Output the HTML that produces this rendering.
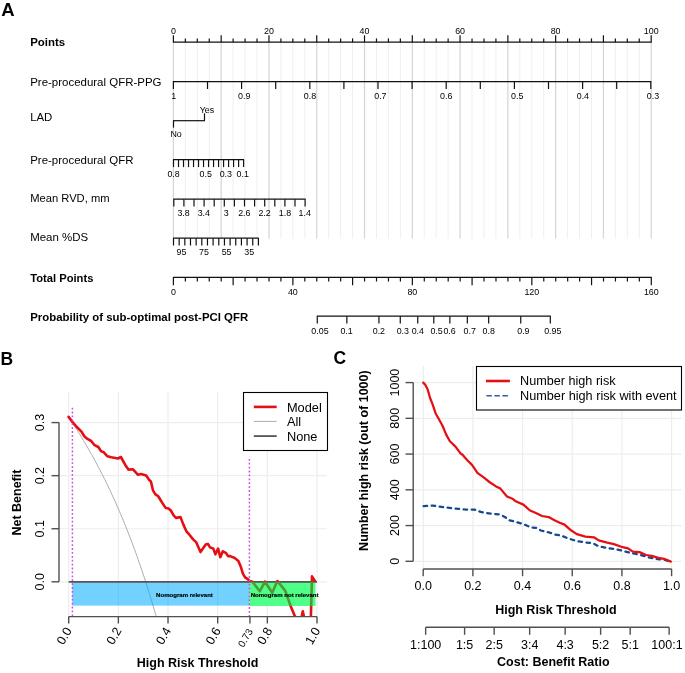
<!DOCTYPE html>
<html><head><meta charset="utf-8"><title>Nomogram and decision curves</title>
<style>
html,body{margin:0;padding:0;background:#fff;}
body{width:685px;height:673px;overflow:hidden;}
svg{display:block;font-family:"Liberation Sans", Arial, Helvetica, sans-serif;}
</style></head>
<body>
<svg width="685" height="673" viewBox="0 0 685 673">
<rect width="685" height="673" fill="#fff"/>
<text x="1.20" y="16.10" font-size="18.5" text-anchor="start" font-weight="bold" fill="#000" >A</text>
<line x1="173.40" y1="42.20" x2="173.40" y2="238.60" stroke="#d4d4d4" stroke-width="1.2" />
<line x1="185.34" y1="42.20" x2="185.34" y2="238.60" stroke="#efefef" stroke-width="1.0" />
<line x1="197.29" y1="42.20" x2="197.29" y2="238.60" stroke="#efefef" stroke-width="1.0" />
<line x1="209.24" y1="42.20" x2="209.24" y2="238.60" stroke="#efefef" stroke-width="1.0" />
<line x1="221.18" y1="42.20" x2="221.18" y2="238.60" stroke="#d4d4d4" stroke-width="1.2" />
<line x1="233.12" y1="42.20" x2="233.12" y2="238.60" stroke="#efefef" stroke-width="1.0" />
<line x1="245.07" y1="42.20" x2="245.07" y2="238.60" stroke="#efefef" stroke-width="1.0" />
<line x1="257.01" y1="42.20" x2="257.01" y2="238.60" stroke="#efefef" stroke-width="1.0" />
<line x1="268.96" y1="42.20" x2="268.96" y2="238.60" stroke="#d4d4d4" stroke-width="1.2" />
<line x1="280.91" y1="42.20" x2="280.91" y2="238.60" stroke="#efefef" stroke-width="1.0" />
<line x1="292.85" y1="42.20" x2="292.85" y2="238.60" stroke="#efefef" stroke-width="1.0" />
<line x1="304.80" y1="42.20" x2="304.80" y2="238.60" stroke="#efefef" stroke-width="1.0" />
<line x1="316.74" y1="42.20" x2="316.74" y2="238.60" stroke="#d4d4d4" stroke-width="1.2" />
<line x1="328.69" y1="42.20" x2="328.69" y2="238.60" stroke="#efefef" stroke-width="1.0" />
<line x1="340.63" y1="42.20" x2="340.63" y2="238.60" stroke="#efefef" stroke-width="1.0" />
<line x1="352.58" y1="42.20" x2="352.58" y2="238.60" stroke="#efefef" stroke-width="1.0" />
<line x1="364.52" y1="42.20" x2="364.52" y2="238.60" stroke="#d4d4d4" stroke-width="1.2" />
<line x1="376.47" y1="42.20" x2="376.47" y2="238.60" stroke="#efefef" stroke-width="1.0" />
<line x1="388.41" y1="42.20" x2="388.41" y2="238.60" stroke="#efefef" stroke-width="1.0" />
<line x1="400.36" y1="42.20" x2="400.36" y2="238.60" stroke="#efefef" stroke-width="1.0" />
<line x1="412.30" y1="42.20" x2="412.30" y2="238.60" stroke="#d4d4d4" stroke-width="1.2" />
<line x1="424.25" y1="42.20" x2="424.25" y2="238.60" stroke="#efefef" stroke-width="1.0" />
<line x1="436.19" y1="42.20" x2="436.19" y2="238.60" stroke="#efefef" stroke-width="1.0" />
<line x1="448.13" y1="42.20" x2="448.13" y2="238.60" stroke="#efefef" stroke-width="1.0" />
<line x1="460.08" y1="42.20" x2="460.08" y2="238.60" stroke="#d4d4d4" stroke-width="1.2" />
<line x1="472.03" y1="42.20" x2="472.03" y2="238.60" stroke="#efefef" stroke-width="1.0" />
<line x1="483.97" y1="42.20" x2="483.97" y2="238.60" stroke="#efefef" stroke-width="1.0" />
<line x1="495.92" y1="42.20" x2="495.92" y2="238.60" stroke="#efefef" stroke-width="1.0" />
<line x1="507.86" y1="42.20" x2="507.86" y2="238.60" stroke="#d4d4d4" stroke-width="1.2" />
<line x1="519.81" y1="42.20" x2="519.81" y2="238.60" stroke="#efefef" stroke-width="1.0" />
<line x1="531.75" y1="42.20" x2="531.75" y2="238.60" stroke="#efefef" stroke-width="1.0" />
<line x1="543.70" y1="42.20" x2="543.70" y2="238.60" stroke="#efefef" stroke-width="1.0" />
<line x1="555.64" y1="42.20" x2="555.64" y2="238.60" stroke="#d4d4d4" stroke-width="1.2" />
<line x1="567.59" y1="42.20" x2="567.59" y2="238.60" stroke="#efefef" stroke-width="1.0" />
<line x1="579.53" y1="42.20" x2="579.53" y2="238.60" stroke="#efefef" stroke-width="1.0" />
<line x1="591.48" y1="42.20" x2="591.48" y2="238.60" stroke="#efefef" stroke-width="1.0" />
<line x1="603.42" y1="42.20" x2="603.42" y2="238.60" stroke="#d4d4d4" stroke-width="1.2" />
<line x1="615.37" y1="42.20" x2="615.37" y2="238.60" stroke="#efefef" stroke-width="1.0" />
<line x1="627.31" y1="42.20" x2="627.31" y2="238.60" stroke="#efefef" stroke-width="1.0" />
<line x1="639.25" y1="42.20" x2="639.25" y2="238.60" stroke="#efefef" stroke-width="1.0" />
<line x1="651.20" y1="42.20" x2="651.20" y2="238.60" stroke="#d4d4d4" stroke-width="1.2" />
<line x1="172.90" y1="42.20" x2="651.70" y2="42.20" stroke="#111111" stroke-width="1.2" />
<line x1="173.40" y1="42.20" x2="173.40" y2="35.30" stroke="#111111" stroke-width="1.2" />
<line x1="185.34" y1="42.20" x2="185.34" y2="38.40" stroke="#111111" stroke-width="1.2" />
<line x1="197.29" y1="42.20" x2="197.29" y2="38.40" stroke="#111111" stroke-width="1.2" />
<line x1="209.24" y1="42.20" x2="209.24" y2="38.40" stroke="#111111" stroke-width="1.2" />
<line x1="221.18" y1="42.20" x2="221.18" y2="35.30" stroke="#111111" stroke-width="1.2" />
<line x1="233.12" y1="42.20" x2="233.12" y2="38.40" stroke="#111111" stroke-width="1.2" />
<line x1="245.07" y1="42.20" x2="245.07" y2="38.40" stroke="#111111" stroke-width="1.2" />
<line x1="257.01" y1="42.20" x2="257.01" y2="38.40" stroke="#111111" stroke-width="1.2" />
<line x1="268.96" y1="42.20" x2="268.96" y2="35.30" stroke="#111111" stroke-width="1.2" />
<line x1="280.91" y1="42.20" x2="280.91" y2="38.40" stroke="#111111" stroke-width="1.2" />
<line x1="292.85" y1="42.20" x2="292.85" y2="38.40" stroke="#111111" stroke-width="1.2" />
<line x1="304.80" y1="42.20" x2="304.80" y2="38.40" stroke="#111111" stroke-width="1.2" />
<line x1="316.74" y1="42.20" x2="316.74" y2="35.30" stroke="#111111" stroke-width="1.2" />
<line x1="328.69" y1="42.20" x2="328.69" y2="38.40" stroke="#111111" stroke-width="1.2" />
<line x1="340.63" y1="42.20" x2="340.63" y2="38.40" stroke="#111111" stroke-width="1.2" />
<line x1="352.58" y1="42.20" x2="352.58" y2="38.40" stroke="#111111" stroke-width="1.2" />
<line x1="364.52" y1="42.20" x2="364.52" y2="35.30" stroke="#111111" stroke-width="1.2" />
<line x1="376.47" y1="42.20" x2="376.47" y2="38.40" stroke="#111111" stroke-width="1.2" />
<line x1="388.41" y1="42.20" x2="388.41" y2="38.40" stroke="#111111" stroke-width="1.2" />
<line x1="400.36" y1="42.20" x2="400.36" y2="38.40" stroke="#111111" stroke-width="1.2" />
<line x1="412.30" y1="42.20" x2="412.30" y2="35.30" stroke="#111111" stroke-width="1.2" />
<line x1="424.25" y1="42.20" x2="424.25" y2="38.40" stroke="#111111" stroke-width="1.2" />
<line x1="436.19" y1="42.20" x2="436.19" y2="38.40" stroke="#111111" stroke-width="1.2" />
<line x1="448.13" y1="42.20" x2="448.13" y2="38.40" stroke="#111111" stroke-width="1.2" />
<line x1="460.08" y1="42.20" x2="460.08" y2="35.30" stroke="#111111" stroke-width="1.2" />
<line x1="472.03" y1="42.20" x2="472.03" y2="38.40" stroke="#111111" stroke-width="1.2" />
<line x1="483.97" y1="42.20" x2="483.97" y2="38.40" stroke="#111111" stroke-width="1.2" />
<line x1="495.92" y1="42.20" x2="495.92" y2="38.40" stroke="#111111" stroke-width="1.2" />
<line x1="507.86" y1="42.20" x2="507.86" y2="35.30" stroke="#111111" stroke-width="1.2" />
<line x1="519.81" y1="42.20" x2="519.81" y2="38.40" stroke="#111111" stroke-width="1.2" />
<line x1="531.75" y1="42.20" x2="531.75" y2="38.40" stroke="#111111" stroke-width="1.2" />
<line x1="543.70" y1="42.20" x2="543.70" y2="38.40" stroke="#111111" stroke-width="1.2" />
<line x1="555.64" y1="42.20" x2="555.64" y2="35.30" stroke="#111111" stroke-width="1.2" />
<line x1="567.59" y1="42.20" x2="567.59" y2="38.40" stroke="#111111" stroke-width="1.2" />
<line x1="579.53" y1="42.20" x2="579.53" y2="38.40" stroke="#111111" stroke-width="1.2" />
<line x1="591.48" y1="42.20" x2="591.48" y2="38.40" stroke="#111111" stroke-width="1.2" />
<line x1="603.42" y1="42.20" x2="603.42" y2="35.30" stroke="#111111" stroke-width="1.2" />
<line x1="615.37" y1="42.20" x2="615.37" y2="38.40" stroke="#111111" stroke-width="1.2" />
<line x1="627.31" y1="42.20" x2="627.31" y2="38.40" stroke="#111111" stroke-width="1.2" />
<line x1="639.25" y1="42.20" x2="639.25" y2="38.40" stroke="#111111" stroke-width="1.2" />
<line x1="651.20" y1="42.20" x2="651.20" y2="35.30" stroke="#111111" stroke-width="1.2" />
<text x="173.40" y="33.70" font-size="8.9" text-anchor="middle" font-weight="normal" fill="#000" >0</text>
<text x="268.96" y="33.70" font-size="8.9" text-anchor="middle" font-weight="normal" fill="#000" >20</text>
<text x="364.52" y="33.70" font-size="8.9" text-anchor="middle" font-weight="normal" fill="#000" >40</text>
<text x="460.08" y="33.70" font-size="8.9" text-anchor="middle" font-weight="normal" fill="#000" >60</text>
<text x="555.64" y="33.70" font-size="8.9" text-anchor="middle" font-weight="normal" fill="#000" >80</text>
<text x="651.20" y="33.70" font-size="8.9" text-anchor="middle" font-weight="normal" fill="#000" >100</text>
<text x="30.20" y="46.40" font-size="11.45" text-anchor="start" font-weight="bold" fill="#000" >Points</text>
<text x="30.20" y="86.00" font-size="11.48" text-anchor="start" font-weight="normal" fill="#000" >Pre-procedural QFR-PPG</text>
<line x1="172.90" y1="81.60" x2="651.30" y2="81.60" stroke="#111111" stroke-width="1.2" />
<line x1="173.40" y1="81.60" x2="173.40" y2="89.00" stroke="#111111" stroke-width="1.2" />
<line x1="207.50" y1="81.60" x2="207.50" y2="89.00" stroke="#111111" stroke-width="1.2" />
<line x1="241.60" y1="81.60" x2="241.60" y2="89.00" stroke="#111111" stroke-width="1.2" />
<line x1="275.70" y1="81.60" x2="275.70" y2="89.00" stroke="#111111" stroke-width="1.2" />
<line x1="309.80" y1="81.60" x2="309.80" y2="89.00" stroke="#111111" stroke-width="1.2" />
<line x1="343.90" y1="81.60" x2="343.90" y2="89.00" stroke="#111111" stroke-width="1.2" />
<line x1="378.00" y1="81.60" x2="378.00" y2="89.00" stroke="#111111" stroke-width="1.2" />
<line x1="412.10" y1="81.60" x2="412.10" y2="89.00" stroke="#111111" stroke-width="1.2" />
<line x1="446.20" y1="81.60" x2="446.20" y2="89.00" stroke="#111111" stroke-width="1.2" />
<line x1="480.30" y1="81.60" x2="480.30" y2="89.00" stroke="#111111" stroke-width="1.2" />
<line x1="514.40" y1="81.60" x2="514.40" y2="89.00" stroke="#111111" stroke-width="1.2" />
<line x1="548.50" y1="81.60" x2="548.50" y2="89.00" stroke="#111111" stroke-width="1.2" />
<line x1="582.60" y1="81.60" x2="582.60" y2="89.00" stroke="#111111" stroke-width="1.2" />
<line x1="616.70" y1="81.60" x2="616.70" y2="89.00" stroke="#111111" stroke-width="1.2" />
<line x1="650.80" y1="81.60" x2="650.80" y2="89.00" stroke="#111111" stroke-width="1.2" />
<text x="173.60" y="99.00" font-size="8.9" text-anchor="middle" font-weight="normal" fill="#000" >1</text>
<text x="244.20" y="99.00" font-size="8.9" text-anchor="middle" font-weight="normal" fill="#000" >0.9</text>
<text x="310.00" y="99.00" font-size="8.9" text-anchor="middle" font-weight="normal" fill="#000" >0.8</text>
<text x="380.40" y="99.00" font-size="8.9" text-anchor="middle" font-weight="normal" fill="#000" >0.7</text>
<text x="446.20" y="99.00" font-size="8.9" text-anchor="middle" font-weight="normal" fill="#000" >0.6</text>
<text x="517.20" y="99.00" font-size="8.9" text-anchor="middle" font-weight="normal" fill="#000" >0.5</text>
<text x="582.90" y="99.00" font-size="8.9" text-anchor="middle" font-weight="normal" fill="#000" >0.4</text>
<text x="653.00" y="99.00" font-size="8.9" text-anchor="middle" font-weight="normal" fill="#000" >0.3</text>
<text x="30.20" y="120.80" font-size="11.4" text-anchor="start" font-weight="normal" fill="#000" >LAD</text>
<line x1="173.00" y1="120.70" x2="205.00" y2="120.70" stroke="#111111" stroke-width="1.2" />
<line x1="173.50" y1="120.70" x2="173.50" y2="127.60" stroke="#111111" stroke-width="1.2" />
<line x1="204.50" y1="120.70" x2="204.50" y2="113.30" stroke="#111111" stroke-width="1.2" />
<text x="207.00" y="112.90" font-size="8.9" text-anchor="middle" font-weight="normal" fill="#000" >Yes</text>
<text x="176.10" y="137.40" font-size="8.9" text-anchor="middle" font-weight="normal" fill="#000" >No</text>
<text x="30.20" y="163.80" font-size="11.48" text-anchor="start" font-weight="normal" fill="#000" >Pre-procedural QFR</text>
<line x1="173.00" y1="159.60" x2="244.10" y2="159.60" stroke="#111111" stroke-width="1.2" />
<line x1="173.50" y1="159.60" x2="173.50" y2="167.10" stroke="#111111" stroke-width="1.2" />
<line x1="178.51" y1="159.60" x2="178.51" y2="167.10" stroke="#111111" stroke-width="1.2" />
<line x1="183.51" y1="159.60" x2="183.51" y2="167.10" stroke="#111111" stroke-width="1.2" />
<line x1="188.52" y1="159.60" x2="188.52" y2="167.10" stroke="#111111" stroke-width="1.2" />
<line x1="193.53" y1="159.60" x2="193.53" y2="167.10" stroke="#111111" stroke-width="1.2" />
<line x1="198.53" y1="159.60" x2="198.53" y2="167.10" stroke="#111111" stroke-width="1.2" />
<line x1="203.54" y1="159.60" x2="203.54" y2="167.10" stroke="#111111" stroke-width="1.2" />
<line x1="208.55" y1="159.60" x2="208.55" y2="167.10" stroke="#111111" stroke-width="1.2" />
<line x1="213.56" y1="159.60" x2="213.56" y2="167.10" stroke="#111111" stroke-width="1.2" />
<line x1="218.56" y1="159.60" x2="218.56" y2="167.10" stroke="#111111" stroke-width="1.2" />
<line x1="223.57" y1="159.60" x2="223.57" y2="167.10" stroke="#111111" stroke-width="1.2" />
<line x1="228.58" y1="159.60" x2="228.58" y2="167.10" stroke="#111111" stroke-width="1.2" />
<line x1="233.58" y1="159.60" x2="233.58" y2="167.10" stroke="#111111" stroke-width="1.2" />
<line x1="238.59" y1="159.60" x2="238.59" y2="167.10" stroke="#111111" stroke-width="1.2" />
<line x1="243.60" y1="159.60" x2="243.60" y2="167.10" stroke="#111111" stroke-width="1.2" />
<text x="173.60" y="176.70" font-size="8.9" text-anchor="middle" font-weight="normal" fill="#000" >0.8</text>
<text x="205.70" y="176.70" font-size="8.9" text-anchor="middle" font-weight="normal" fill="#000" >0.5</text>
<text x="225.80" y="176.70" font-size="8.9" text-anchor="middle" font-weight="normal" fill="#000" >0.3</text>
<text x="242.70" y="176.70" font-size="8.9" text-anchor="middle" font-weight="normal" fill="#000" >0.1</text>
<text x="30.20" y="201.90" font-size="11.2" text-anchor="start" font-weight="normal" fill="#000" >Mean RVD, mm</text>
<line x1="173.30" y1="199.20" x2="305.60" y2="199.20" stroke="#111111" stroke-width="1.2" />
<line x1="173.80" y1="199.20" x2="173.80" y2="206.40" stroke="#111111" stroke-width="1.2" />
<line x1="183.90" y1="199.20" x2="183.90" y2="206.40" stroke="#111111" stroke-width="1.2" />
<line x1="194.00" y1="199.20" x2="194.00" y2="206.40" stroke="#111111" stroke-width="1.2" />
<line x1="204.10" y1="199.20" x2="204.10" y2="206.40" stroke="#111111" stroke-width="1.2" />
<line x1="214.20" y1="199.20" x2="214.20" y2="206.40" stroke="#111111" stroke-width="1.2" />
<line x1="224.30" y1="199.20" x2="224.30" y2="206.40" stroke="#111111" stroke-width="1.2" />
<line x1="234.40" y1="199.20" x2="234.40" y2="206.40" stroke="#111111" stroke-width="1.2" />
<line x1="244.50" y1="199.20" x2="244.50" y2="206.40" stroke="#111111" stroke-width="1.2" />
<line x1="254.60" y1="199.20" x2="254.60" y2="206.40" stroke="#111111" stroke-width="1.2" />
<line x1="264.70" y1="199.20" x2="264.70" y2="206.40" stroke="#111111" stroke-width="1.2" />
<line x1="274.80" y1="199.20" x2="274.80" y2="206.40" stroke="#111111" stroke-width="1.2" />
<line x1="284.90" y1="199.20" x2="284.90" y2="206.40" stroke="#111111" stroke-width="1.2" />
<line x1="295.00" y1="199.20" x2="295.00" y2="206.40" stroke="#111111" stroke-width="1.2" />
<line x1="305.10" y1="199.20" x2="305.10" y2="206.40" stroke="#111111" stroke-width="1.2" />
<text x="183.60" y="215.60" font-size="8.9" text-anchor="middle" font-weight="normal" fill="#000" >3.8</text>
<text x="203.80" y="215.60" font-size="8.9" text-anchor="middle" font-weight="normal" fill="#000" >3.4</text>
<text x="226.30" y="215.60" font-size="8.9" text-anchor="middle" font-weight="normal" fill="#000" >3</text>
<text x="244.30" y="215.60" font-size="8.9" text-anchor="middle" font-weight="normal" fill="#000" >2.6</text>
<text x="264.60" y="215.60" font-size="8.9" text-anchor="middle" font-weight="normal" fill="#000" >2.2</text>
<text x="285.00" y="215.60" font-size="8.9" text-anchor="middle" font-weight="normal" fill="#000" >1.8</text>
<text x="304.70" y="215.60" font-size="8.9" text-anchor="middle" font-weight="normal" fill="#000" >1.4</text>
<text x="30.20" y="241.30" font-size="11.45" text-anchor="start" font-weight="normal" fill="#000" >Mean %DS</text>
<line x1="173.00" y1="238.20" x2="258.90" y2="238.20" stroke="#111111" stroke-width="1.2" />
<line x1="173.50" y1="238.20" x2="173.50" y2="245.50" stroke="#111111" stroke-width="1.2" />
<line x1="179.16" y1="238.20" x2="179.16" y2="245.50" stroke="#111111" stroke-width="1.2" />
<line x1="184.82" y1="238.20" x2="184.82" y2="245.50" stroke="#111111" stroke-width="1.2" />
<line x1="190.48" y1="238.20" x2="190.48" y2="245.50" stroke="#111111" stroke-width="1.2" />
<line x1="196.14" y1="238.20" x2="196.14" y2="245.50" stroke="#111111" stroke-width="1.2" />
<line x1="201.80" y1="238.20" x2="201.80" y2="245.50" stroke="#111111" stroke-width="1.2" />
<line x1="207.46" y1="238.20" x2="207.46" y2="245.50" stroke="#111111" stroke-width="1.2" />
<line x1="213.12" y1="238.20" x2="213.12" y2="245.50" stroke="#111111" stroke-width="1.2" />
<line x1="218.78" y1="238.20" x2="218.78" y2="245.50" stroke="#111111" stroke-width="1.2" />
<line x1="224.44" y1="238.20" x2="224.44" y2="245.50" stroke="#111111" stroke-width="1.2" />
<line x1="230.10" y1="238.20" x2="230.10" y2="245.50" stroke="#111111" stroke-width="1.2" />
<line x1="235.76" y1="238.20" x2="235.76" y2="245.50" stroke="#111111" stroke-width="1.2" />
<line x1="241.42" y1="238.20" x2="241.42" y2="245.50" stroke="#111111" stroke-width="1.2" />
<line x1="247.08" y1="238.20" x2="247.08" y2="245.50" stroke="#111111" stroke-width="1.2" />
<line x1="252.74" y1="238.20" x2="252.74" y2="245.50" stroke="#111111" stroke-width="1.2" />
<line x1="258.40" y1="238.20" x2="258.40" y2="245.50" stroke="#111111" stroke-width="1.2" />
<text x="181.40" y="255.40" font-size="8.9" text-anchor="middle" font-weight="normal" fill="#000" >95</text>
<text x="204.00" y="255.40" font-size="8.9" text-anchor="middle" font-weight="normal" fill="#000" >75</text>
<text x="226.60" y="255.40" font-size="8.9" text-anchor="middle" font-weight="normal" fill="#000" >55</text>
<text x="249.20" y="255.40" font-size="8.9" text-anchor="middle" font-weight="normal" fill="#000" >35</text>
<text x="30.20" y="281.90" font-size="11.2" text-anchor="start" font-weight="bold" fill="#000" >Total Points</text>
<line x1="172.90" y1="277.40" x2="651.80" y2="277.40" stroke="#111111" stroke-width="1.2" />
<line x1="173.40" y1="277.40" x2="173.40" y2="285.20" stroke="#111111" stroke-width="1.2" />
<line x1="185.35" y1="277.40" x2="185.35" y2="281.50" stroke="#111111" stroke-width="1.2" />
<line x1="197.30" y1="277.40" x2="197.30" y2="281.50" stroke="#111111" stroke-width="1.2" />
<line x1="209.24" y1="277.40" x2="209.24" y2="281.50" stroke="#111111" stroke-width="1.2" />
<line x1="221.19" y1="277.40" x2="221.19" y2="281.50" stroke="#111111" stroke-width="1.2" />
<line x1="233.14" y1="277.40" x2="233.14" y2="285.20" stroke="#111111" stroke-width="1.2" />
<line x1="245.08" y1="277.40" x2="245.08" y2="281.50" stroke="#111111" stroke-width="1.2" />
<line x1="257.03" y1="277.40" x2="257.03" y2="281.50" stroke="#111111" stroke-width="1.2" />
<line x1="268.98" y1="277.40" x2="268.98" y2="281.50" stroke="#111111" stroke-width="1.2" />
<line x1="280.93" y1="277.40" x2="280.93" y2="281.50" stroke="#111111" stroke-width="1.2" />
<line x1="292.88" y1="277.40" x2="292.88" y2="285.20" stroke="#111111" stroke-width="1.2" />
<line x1="304.82" y1="277.40" x2="304.82" y2="281.50" stroke="#111111" stroke-width="1.2" />
<line x1="316.77" y1="277.40" x2="316.77" y2="281.50" stroke="#111111" stroke-width="1.2" />
<line x1="328.72" y1="277.40" x2="328.72" y2="281.50" stroke="#111111" stroke-width="1.2" />
<line x1="340.66" y1="277.40" x2="340.66" y2="281.50" stroke="#111111" stroke-width="1.2" />
<line x1="352.61" y1="277.40" x2="352.61" y2="285.20" stroke="#111111" stroke-width="1.2" />
<line x1="364.56" y1="277.40" x2="364.56" y2="281.50" stroke="#111111" stroke-width="1.2" />
<line x1="376.51" y1="277.40" x2="376.51" y2="281.50" stroke="#111111" stroke-width="1.2" />
<line x1="388.45" y1="277.40" x2="388.45" y2="281.50" stroke="#111111" stroke-width="1.2" />
<line x1="400.40" y1="277.40" x2="400.40" y2="281.50" stroke="#111111" stroke-width="1.2" />
<line x1="412.35" y1="277.40" x2="412.35" y2="285.20" stroke="#111111" stroke-width="1.2" />
<line x1="424.30" y1="277.40" x2="424.30" y2="281.50" stroke="#111111" stroke-width="1.2" />
<line x1="436.25" y1="277.40" x2="436.25" y2="281.50" stroke="#111111" stroke-width="1.2" />
<line x1="448.19" y1="277.40" x2="448.19" y2="281.50" stroke="#111111" stroke-width="1.2" />
<line x1="460.14" y1="277.40" x2="460.14" y2="281.50" stroke="#111111" stroke-width="1.2" />
<line x1="472.09" y1="277.40" x2="472.09" y2="285.20" stroke="#111111" stroke-width="1.2" />
<line x1="484.03" y1="277.40" x2="484.03" y2="281.50" stroke="#111111" stroke-width="1.2" />
<line x1="495.98" y1="277.40" x2="495.98" y2="281.50" stroke="#111111" stroke-width="1.2" />
<line x1="507.93" y1="277.40" x2="507.93" y2="281.50" stroke="#111111" stroke-width="1.2" />
<line x1="519.88" y1="277.40" x2="519.88" y2="281.50" stroke="#111111" stroke-width="1.2" />
<line x1="531.83" y1="277.40" x2="531.83" y2="285.20" stroke="#111111" stroke-width="1.2" />
<line x1="543.77" y1="277.40" x2="543.77" y2="281.50" stroke="#111111" stroke-width="1.2" />
<line x1="555.72" y1="277.40" x2="555.72" y2="281.50" stroke="#111111" stroke-width="1.2" />
<line x1="567.67" y1="277.40" x2="567.67" y2="281.50" stroke="#111111" stroke-width="1.2" />
<line x1="579.62" y1="277.40" x2="579.62" y2="281.50" stroke="#111111" stroke-width="1.2" />
<line x1="591.56" y1="277.40" x2="591.56" y2="285.20" stroke="#111111" stroke-width="1.2" />
<line x1="603.51" y1="277.40" x2="603.51" y2="281.50" stroke="#111111" stroke-width="1.2" />
<line x1="615.46" y1="277.40" x2="615.46" y2="281.50" stroke="#111111" stroke-width="1.2" />
<line x1="627.40" y1="277.40" x2="627.40" y2="281.50" stroke="#111111" stroke-width="1.2" />
<line x1="639.35" y1="277.40" x2="639.35" y2="281.50" stroke="#111111" stroke-width="1.2" />
<line x1="651.30" y1="277.40" x2="651.30" y2="285.20" stroke="#111111" stroke-width="1.2" />
<text x="173.40" y="295.10" font-size="8.9" text-anchor="middle" font-weight="normal" fill="#000" >0</text>
<text x="292.88" y="295.10" font-size="8.9" text-anchor="middle" font-weight="normal" fill="#000" >40</text>
<text x="412.35" y="295.10" font-size="8.9" text-anchor="middle" font-weight="normal" fill="#000" >80</text>
<text x="531.83" y="295.10" font-size="8.9" text-anchor="middle" font-weight="normal" fill="#000" >120</text>
<text x="651.30" y="295.10" font-size="8.9" text-anchor="middle" font-weight="normal" fill="#000" >160</text>
<text x="30.20" y="321.00" font-size="11.42" text-anchor="start" font-weight="bold" fill="#000" >Probability of sub-optimal post-PCI QFR</text>
<line x1="316.78" y1="316.20" x2="550.82" y2="316.20" stroke="#111111" stroke-width="1.2" />
<line x1="317.28" y1="316.20" x2="317.28" y2="323.40" stroke="#111111" stroke-width="1.2" />
<line x1="346.85" y1="316.20" x2="346.85" y2="323.40" stroke="#111111" stroke-width="1.2" />
<line x1="378.94" y1="316.20" x2="378.94" y2="323.40" stroke="#111111" stroke-width="1.2" />
<line x1="400.27" y1="316.20" x2="400.27" y2="323.40" stroke="#111111" stroke-width="1.2" />
<line x1="417.75" y1="316.20" x2="417.75" y2="323.40" stroke="#111111" stroke-width="1.2" />
<line x1="433.80" y1="316.20" x2="433.80" y2="323.40" stroke="#111111" stroke-width="1.2" />
<line x1="449.85" y1="316.20" x2="449.85" y2="323.40" stroke="#111111" stroke-width="1.2" />
<line x1="467.33" y1="316.20" x2="467.33" y2="323.40" stroke="#111111" stroke-width="1.2" />
<line x1="488.66" y1="316.20" x2="488.66" y2="323.40" stroke="#111111" stroke-width="1.2" />
<line x1="520.75" y1="316.20" x2="520.75" y2="323.40" stroke="#111111" stroke-width="1.2" />
<line x1="550.32" y1="316.20" x2="550.32" y2="323.40" stroke="#111111" stroke-width="1.2" />
<text x="320.00" y="333.60" font-size="8.9" text-anchor="middle" font-weight="normal" fill="#000" >0.05</text>
<text x="346.60" y="333.60" font-size="8.9" text-anchor="middle" font-weight="normal" fill="#000" >0.1</text>
<text x="378.90" y="333.60" font-size="8.9" text-anchor="middle" font-weight="normal" fill="#000" >0.2</text>
<text x="402.80" y="333.60" font-size="8.9" text-anchor="middle" font-weight="normal" fill="#000" >0.3</text>
<text x="417.80" y="333.60" font-size="8.9" text-anchor="middle" font-weight="normal" fill="#000" >0.4</text>
<text x="436.60" y="333.60" font-size="8.9" text-anchor="middle" font-weight="normal" fill="#000" >0.5</text>
<text x="449.60" y="333.60" font-size="8.9" text-anchor="middle" font-weight="normal" fill="#000" >0.6</text>
<text x="469.70" y="333.60" font-size="8.9" text-anchor="middle" font-weight="normal" fill="#000" >0.7</text>
<text x="488.70" y="333.60" font-size="8.9" text-anchor="middle" font-weight="normal" fill="#000" >0.8</text>
<text x="523.40" y="333.60" font-size="8.9" text-anchor="middle" font-weight="normal" fill="#000" >0.9</text>
<text x="552.80" y="333.60" font-size="8.9" text-anchor="middle" font-weight="normal" fill="#000" >0.95</text>
<text x="0.60" y="364.80" font-size="17.5" text-anchor="start" font-weight="bold" fill="#000" >B</text>
<line x1="68.70" y1="391.80" x2="68.70" y2="616.60" stroke="#ededed" stroke-width="1.2" />
<line x1="118.36" y1="391.80" x2="118.36" y2="616.60" stroke="#ededed" stroke-width="1.2" />
<line x1="168.02" y1="391.80" x2="168.02" y2="616.60" stroke="#ededed" stroke-width="1.2" />
<line x1="217.68" y1="391.80" x2="217.68" y2="616.60" stroke="#ededed" stroke-width="1.2" />
<line x1="267.34" y1="391.80" x2="267.34" y2="616.60" stroke="#ededed" stroke-width="1.2" />
<line x1="317.00" y1="391.80" x2="317.00" y2="616.60" stroke="#ededed" stroke-width="1.2" />
<line x1="58.80" y1="581.80" x2="326.90" y2="581.80" stroke="#ededed" stroke-width="1.2" />
<line x1="58.80" y1="528.73" x2="326.90" y2="528.73" stroke="#ededed" stroke-width="1.2" />
<line x1="58.80" y1="475.66" x2="326.90" y2="475.66" stroke="#ededed" stroke-width="1.2" />
<line x1="58.80" y1="422.59" x2="326.90" y2="422.59" stroke="#ededed" stroke-width="1.2" />
<clipPath id="cb"><rect x="58.8" y="391.8" width="268.09999999999997" height="224.8"/></clipPath>
<clipPath id="outG"><path clip-rule="evenodd" d="M58.8,391.8 H326.9 V616.6 H58.8 Z M249.21,581.80 V606.00 H315.51 V581.80 Z"/></clipPath>
<clipPath id="inG"><rect x="249.21" y="581.80" width="66.30" height="24.20"/></clipPath>
<g clip-path="url(#cb)">
<polyline points="68.70,417.28 69.94,419.12 71.18,420.98 72.42,422.86 73.67,424.76 74.91,426.67 76.15,428.61 77.39,430.56 78.63,432.54 79.87,434.54 81.12,436.56 82.36,438.60 83.60,440.66 84.84,442.74 86.08,444.85 87.32,446.97 88.56,449.12 89.81,451.30 91.05,453.50 92.29,455.72 93.53,457.97 94.77,460.24 96.01,462.54 97.25,464.87 98.50,467.22 99.74,469.59 100.98,472.00 102.22,474.43 103.46,476.89 104.70,479.38 105.95,481.90 107.19,484.45 108.43,487.03 109.67,489.64 110.91,492.28 112.15,494.96 113.39,497.66 114.64,500.40 115.88,503.18 117.12,505.99 118.36,508.83 119.60,511.71 120.84,514.62 122.08,517.58 123.33,520.57 124.57,523.59 125.81,526.66 127.05,529.77 128.29,532.92 129.53,536.11 130.78,539.34 132.02,542.62 133.26,545.94 134.50,549.31 135.74,552.72 136.98,556.18 138.22,559.69 139.47,563.24 140.71,566.85 141.95,570.51 143.19,574.22 144.43,577.98 145.67,581.80 146.91,585.67 148.16,589.60 149.40,593.59 150.64,597.64 151.88,601.75 153.12,605.92 154.36,610.16 155.61,614.46 156.85,618.83 158.09,623.26 159.33,627.77" fill="none" stroke="#acacac" stroke-width="1.0" stroke-linejoin="round" stroke-linecap="round" />
<rect x="72.30" y="581.80" width="176.91" height="23.8" fill="rgb(0,172,255)" fill-opacity="0.553"/>
<rect x="249.21" y="581.80" width="66.30" height="24.20" fill="rgb(80,255,136)"/>
<line x1="68.70" y1="581.80" x2="317.00" y2="581.80" stroke="#555555" stroke-width="1.8" />
<g clip-path="url(#outG)">
<polyline points="68.60,416.90 72.60,422.10 76.30,426.50 81.50,431.70 84.50,436.50 87.50,438.90 91.20,441.00 94.20,444.80 98.30,447.00 101.30,451.40 103.80,452.30 107.50,456.30 111.30,457.30 118.00,458.50 120.90,457.00 125.40,465.20 128.40,469.60 132.80,469.20 138.00,474.80 141.00,474.10 146.20,475.60 149.20,480.00 150.90,481.50 153.00,490.40 155.20,494.10 158.20,496.30 161.90,502.30 165.60,507.90 168.60,508.50 170.80,510.50 173.80,515.70 176.00,517.90 180.50,517.10 183.40,524.60 186.40,531.30 189.40,534.70 193.10,539.40 196.10,542.10 200.50,552.10 205.70,544.60 207.90,543.90 210.20,547.60 213.20,548.40 215.40,554.30 218.10,548.60 220.30,557.30 222.80,551.30 225.80,552.80 228.00,556.10 230.20,556.10 234.70,558.00 238.40,561.00 240.60,566.20 242.90,573.60 245.10,577.30 248.10,579.30 249.20,581.00 252.50,581.70 259.70,591.30 265.00,581.70 272.20,592.80 277.40,581.00 285.30,590.90 290.60,606.00 296.50,620.00 301.00,620.00 302.80,611.20 304.60,620.00 310.80,620.00 312.00,576.40 314.90,581.00" fill="none" stroke="#e60f14" stroke-width="2.6" stroke-linejoin="round" stroke-linecap="round" />
</g>
<g clip-path="url(#inG)">
<polyline points="68.60,416.90 72.60,422.10 76.30,426.50 81.50,431.70 84.50,436.50 87.50,438.90 91.20,441.00 94.20,444.80 98.30,447.00 101.30,451.40 103.80,452.30 107.50,456.30 111.30,457.30 118.00,458.50 120.90,457.00 125.40,465.20 128.40,469.60 132.80,469.20 138.00,474.80 141.00,474.10 146.20,475.60 149.20,480.00 150.90,481.50 153.00,490.40 155.20,494.10 158.20,496.30 161.90,502.30 165.60,507.90 168.60,508.50 170.80,510.50 173.80,515.70 176.00,517.90 180.50,517.10 183.40,524.60 186.40,531.30 189.40,534.70 193.10,539.40 196.10,542.10 200.50,552.10 205.70,544.60 207.90,543.90 210.20,547.60 213.20,548.40 215.40,554.30 218.10,548.60 220.30,557.30 222.80,551.30 225.80,552.80 228.00,556.10 230.20,556.10 234.70,558.00 238.40,561.00 240.60,566.20 242.90,573.60 245.10,577.30 248.10,579.30 249.20,581.00 252.50,581.70 259.70,591.30 265.00,581.70 272.20,592.80 277.40,581.00 285.30,590.90 290.60,606.00 296.50,620.00 301.00,620.00 302.80,611.20 304.60,620.00 310.80,620.00 312.00,576.40 314.90,581.00" fill="none" stroke="#4f9a36" stroke-width="2.6" stroke-linejoin="round" stroke-linecap="round" />
</g>
<line x1="72.40" y1="407.70" x2="72.40" y2="617.00" stroke="#cc4ee2" stroke-width="1.5" stroke-dasharray="1.8 2.1"/>
<line x1="249.40" y1="458.90" x2="249.40" y2="617.00" stroke="#cc4ee2" stroke-width="1.5" stroke-dasharray="1.8 2.1"/>
</g>
<text x="184.50" y="597.30" font-size="6.05" text-anchor="middle" font-weight="bold" fill="#000" stroke="#000" stroke-width="0.18">Nomogram relevant</text>
<text x="284.60" y="597.30" font-size="6.05" text-anchor="middle" font-weight="bold" fill="#000" stroke="#000" stroke-width="0.18">Nomogram not relevant</text>
<line x1="59.00" y1="581.80" x2="59.00" y2="422.59" stroke="#505050" stroke-width="1.4" />
<line x1="51.50" y1="581.80" x2="59.00" y2="581.80" stroke="#505050" stroke-width="1.4" />
<text transform="translate(43.8 581.80) rotate(-90)" font-size="12.5" text-anchor="middle">0.0</text>
<line x1="51.50" y1="528.73" x2="59.00" y2="528.73" stroke="#505050" stroke-width="1.4" />
<text transform="translate(43.8 528.73) rotate(-90)" font-size="12.5" text-anchor="middle">0.1</text>
<line x1="51.50" y1="475.66" x2="59.00" y2="475.66" stroke="#505050" stroke-width="1.4" />
<text transform="translate(43.8 475.66) rotate(-90)" font-size="12.5" text-anchor="middle">0.2</text>
<line x1="51.50" y1="422.59" x2="59.00" y2="422.59" stroke="#505050" stroke-width="1.4" />
<text transform="translate(43.8 422.59) rotate(-90)" font-size="12.5" text-anchor="middle">0.3</text>
<line x1="68.70" y1="616.60" x2="317.00" y2="616.60" stroke="#505050" stroke-width="1.4" />
<line x1="68.70" y1="616.60" x2="68.70" y2="623.50" stroke="#505050" stroke-width="1.4" />
<line x1="118.36" y1="616.60" x2="118.36" y2="623.50" stroke="#505050" stroke-width="1.4" />
<line x1="168.02" y1="616.60" x2="168.02" y2="623.50" stroke="#505050" stroke-width="1.4" />
<line x1="217.68" y1="616.60" x2="217.68" y2="623.50" stroke="#505050" stroke-width="1.4" />
<line x1="249.96" y1="616.60" x2="249.96" y2="623.50" stroke="#505050" stroke-width="1.4" />
<line x1="267.34" y1="616.60" x2="267.34" y2="623.50" stroke="#505050" stroke-width="1.4" />
<line x1="317.00" y1="616.60" x2="317.00" y2="623.50" stroke="#505050" stroke-width="1.4" />
<text transform="translate(72.20 630.50) rotate(-60)" font-size="12.5" text-anchor="end">0.0</text>
<text transform="translate(121.86 630.50) rotate(-60)" font-size="12.5" text-anchor="end">0.2</text>
<text transform="translate(171.52 630.50) rotate(-60)" font-size="12.5" text-anchor="end">0.4</text>
<text transform="translate(221.18 630.50) rotate(-60)" font-size="12.5" text-anchor="end">0.6</text>
<text transform="translate(253.16 631.10) rotate(-60)" font-size="10.0" text-anchor="end">0.73</text>
<text transform="translate(272.64 630.50) rotate(-60)" font-size="12.5" text-anchor="end">0.8</text>
<text transform="translate(320.80 630.50) rotate(-60)" font-size="12.5" text-anchor="end">1.0</text>
<text transform="translate(20.6 502.6) rotate(-90)" font-size="12.5" font-weight="bold" text-anchor="middle">Net Benefit</text>
<text x="197.60" y="666.50" font-size="12.5" text-anchor="middle" font-weight="bold" fill="#000" >High Risk Threshold</text>
<rect x="243.5" y="392.5" width="84" height="58" fill="#fff" stroke="#000" stroke-width="1.1"/>
<line x1="253.80" y1="406.90" x2="276.70" y2="406.90" stroke="#e60f14" stroke-width="2.6" />
<line x1="253.80" y1="421.40" x2="276.70" y2="421.40" stroke="#acacac" stroke-width="1.0" />
<line x1="253.80" y1="436.10" x2="276.70" y2="436.10" stroke="#555555" stroke-width="1.8" />
<text x="286.90" y="411.60" font-size="12.8" text-anchor="start" font-weight="normal" fill="#000" >Model</text>
<text x="286.90" y="426.30" font-size="12.8" text-anchor="start" font-weight="normal" fill="#000" >All</text>
<text x="286.90" y="441.00" font-size="12.8" text-anchor="start" font-weight="normal" fill="#000" >None</text>
<text x="333.50" y="364.20" font-size="17.5" text-anchor="start" font-weight="bold" fill="#000" >C</text>
<line x1="423.20" y1="366.10" x2="423.20" y2="568.80" stroke="#ededed" stroke-width="1.2" />
<line x1="472.88" y1="366.10" x2="472.88" y2="568.80" stroke="#ededed" stroke-width="1.2" />
<line x1="522.56" y1="366.10" x2="522.56" y2="568.80" stroke="#ededed" stroke-width="1.2" />
<line x1="572.24" y1="366.10" x2="572.24" y2="568.80" stroke="#ededed" stroke-width="1.2" />
<line x1="621.92" y1="366.10" x2="621.92" y2="568.80" stroke="#ededed" stroke-width="1.2" />
<line x1="671.60" y1="366.10" x2="671.60" y2="568.80" stroke="#ededed" stroke-width="1.2" />
<line x1="413.20" y1="561.30" x2="681.60" y2="561.30" stroke="#ededed" stroke-width="1.2" />
<line x1="413.20" y1="525.56" x2="681.60" y2="525.56" stroke="#ededed" stroke-width="1.2" />
<line x1="413.20" y1="489.81" x2="681.60" y2="489.81" stroke="#ededed" stroke-width="1.2" />
<line x1="413.20" y1="454.07" x2="681.60" y2="454.07" stroke="#ededed" stroke-width="1.2" />
<line x1="413.20" y1="418.32" x2="681.60" y2="418.32" stroke="#ededed" stroke-width="1.2" />
<line x1="413.20" y1="382.58" x2="681.60" y2="382.58" stroke="#ededed" stroke-width="1.2" />
<polyline points="423.60,506.20 432.50,505.60 443.50,507.10 454.40,508.60 465.40,509.50 474.10,509.50 480.70,511.90 490.50,513.70 499.30,514.30 504.80,516.90 509.20,520.20 515.70,521.80 524.50,524.60 531.00,527.40 536.50,527.90 540.90,530.50 548.60,532.30 555.10,534.50 561.60,535.70 569.20,538.80 576.80,541.00 586.30,542.50 593.00,543.30 598.70,546.30 608.10,548.10 617.60,549.60 625.20,551.50 632.80,553.40 640.40,554.90 648.00,557.20 657.50,559.10 665.10,560.00 670.80,561.90" fill="none" stroke="#154a8e" stroke-width="2.25" stroke-linejoin="round" stroke-linecap="round" stroke-dasharray="3.6 4.45" stroke-linecap="round"/>
<polyline points="423.20,382.60 425.40,384.90 427.60,389.30 429.90,397.50 432.80,404.90 435.80,413.80 438.80,419.00 442.50,425.70 446.20,434.60 449.90,441.30 455.50,446.60 460.30,453.20 462.50,454.70 467.30,460.30 471.50,464.40 473.00,466.30 477.40,472.80 484.00,477.70 489.40,482.00 496.00,486.40 500.40,488.60 507.00,496.50 512.40,498.70 515.70,501.30 523.40,504.60 530.00,510.50 535.40,512.70 542.00,516.00 548.60,517.10 554.00,519.90 559.70,522.70 564.50,524.60 570.20,529.70 576.80,534.10 585.40,536.60 593.90,537.30 598.70,540.40 607.20,542.60 613.80,544.10 621.40,546.80 628.10,548.30 632.80,551.70 639.50,552.10 646.10,555.00 651.80,555.90 658.40,557.80 664.10,558.80 670.80,561.60" fill="none" stroke="#e60f14" stroke-width="2.25" stroke-linejoin="round" stroke-linecap="round" />
<line x1="413.20" y1="561.30" x2="413.20" y2="382.58" stroke="#505050" stroke-width="1.4" />
<line x1="405.50" y1="561.30" x2="413.20" y2="561.30" stroke="#505050" stroke-width="1.4" />
<text transform="translate(398.6 561.30) rotate(-90)" font-size="12.5" text-anchor="middle">0</text>
<line x1="405.50" y1="525.56" x2="413.20" y2="525.56" stroke="#505050" stroke-width="1.4" />
<text transform="translate(398.6 525.56) rotate(-90)" font-size="12.5" text-anchor="middle">200</text>
<line x1="405.50" y1="489.81" x2="413.20" y2="489.81" stroke="#505050" stroke-width="1.4" />
<text transform="translate(398.6 489.81) rotate(-90)" font-size="12.5" text-anchor="middle">400</text>
<line x1="405.50" y1="454.07" x2="413.20" y2="454.07" stroke="#505050" stroke-width="1.4" />
<text transform="translate(398.6 454.07) rotate(-90)" font-size="12.5" text-anchor="middle">600</text>
<line x1="405.50" y1="418.32" x2="413.20" y2="418.32" stroke="#505050" stroke-width="1.4" />
<text transform="translate(398.6 418.32) rotate(-90)" font-size="12.5" text-anchor="middle">800</text>
<line x1="405.50" y1="382.58" x2="413.20" y2="382.58" stroke="#505050" stroke-width="1.4" />
<text transform="translate(398.6 382.58) rotate(-90)" font-size="12.5" text-anchor="middle">1000</text>
<line x1="423.20" y1="569.00" x2="671.60" y2="569.00" stroke="#505050" stroke-width="1.4" />
<line x1="423.20" y1="569.00" x2="423.20" y2="576.20" stroke="#505050" stroke-width="1.4" />
<text x="423.20" y="590.00" font-size="12.5" text-anchor="middle" font-weight="normal" fill="#000" >0.0</text>
<line x1="472.88" y1="569.00" x2="472.88" y2="576.20" stroke="#505050" stroke-width="1.4" />
<text x="472.88" y="590.00" font-size="12.5" text-anchor="middle" font-weight="normal" fill="#000" >0.2</text>
<line x1="522.56" y1="569.00" x2="522.56" y2="576.20" stroke="#505050" stroke-width="1.4" />
<text x="522.56" y="590.00" font-size="12.5" text-anchor="middle" font-weight="normal" fill="#000" >0.4</text>
<line x1="572.24" y1="569.00" x2="572.24" y2="576.20" stroke="#505050" stroke-width="1.4" />
<text x="572.24" y="590.00" font-size="12.5" text-anchor="middle" font-weight="normal" fill="#000" >0.6</text>
<line x1="621.92" y1="569.00" x2="621.92" y2="576.20" stroke="#505050" stroke-width="1.4" />
<text x="621.92" y="590.00" font-size="12.5" text-anchor="middle" font-weight="normal" fill="#000" >0.8</text>
<line x1="671.60" y1="569.00" x2="671.60" y2="576.20" stroke="#505050" stroke-width="1.4" />
<text x="671.60" y="590.00" font-size="12.5" text-anchor="middle" font-weight="normal" fill="#000" >1.0</text>
<text x="555.90" y="614.10" font-size="12.5" text-anchor="middle" font-weight="bold" fill="#000" >High Risk Threshold</text>
<line x1="425.66" y1="627.20" x2="669.14" y2="627.20" stroke="#505050" stroke-width="1.4" />
<line x1="425.66" y1="627.20" x2="425.66" y2="634.80" stroke="#505050" stroke-width="1.4" />
<text x="425.66" y="648.70" font-size="12.5" text-anchor="middle" font-weight="normal" fill="#000" >1:100</text>
<line x1="464.60" y1="627.20" x2="464.60" y2="634.80" stroke="#505050" stroke-width="1.4" />
<text x="464.60" y="648.70" font-size="12.5" text-anchor="middle" font-weight="normal" fill="#000" >1:5</text>
<line x1="494.17" y1="627.20" x2="494.17" y2="634.80" stroke="#505050" stroke-width="1.4" />
<text x="494.17" y="648.70" font-size="12.5" text-anchor="middle" font-weight="normal" fill="#000" >2:5</text>
<line x1="529.66" y1="627.20" x2="529.66" y2="634.80" stroke="#505050" stroke-width="1.4" />
<text x="529.66" y="648.70" font-size="12.5" text-anchor="middle" font-weight="normal" fill="#000" >3:4</text>
<line x1="565.14" y1="627.20" x2="565.14" y2="634.80" stroke="#505050" stroke-width="1.4" />
<text x="565.14" y="648.70" font-size="12.5" text-anchor="middle" font-weight="normal" fill="#000" >4:3</text>
<line x1="600.63" y1="627.20" x2="600.63" y2="634.80" stroke="#505050" stroke-width="1.4" />
<text x="600.63" y="648.70" font-size="12.5" text-anchor="middle" font-weight="normal" fill="#000" >5:2</text>
<line x1="630.20" y1="627.20" x2="630.20" y2="634.80" stroke="#505050" stroke-width="1.4" />
<text x="630.20" y="648.70" font-size="12.5" text-anchor="middle" font-weight="normal" fill="#000" >5:1</text>
<line x1="669.14" y1="627.20" x2="669.14" y2="634.80" stroke="#505050" stroke-width="1.4" />
<text x="667.00" y="648.70" font-size="12.5" text-anchor="middle" font-weight="normal" fill="#000" >100:1</text>
<text x="553.30" y="666.30" font-size="12.5" text-anchor="middle" font-weight="bold" fill="#000" >Cost: Benefit Ratio</text>
<text transform="translate(367.9 460.6) rotate(-90)" font-size="12.5" font-weight="bold" text-anchor="middle">Number high risk (out of 1000)</text>
<rect x="476.5" y="366.5" width="205" height="43.5" fill="#fff" stroke="#000" stroke-width="1.1"/>
<line x1="486.00" y1="381.00" x2="509.90" y2="381.00" stroke="#e60f14" stroke-width="2.6" />
<line x1="486.40" y1="395.70" x2="509.90" y2="395.70" stroke="#35619c" stroke-width="1.4" stroke-dasharray="5.5 2.5"/>
<text x="520.00" y="385.40" font-size="12.65" text-anchor="start" font-weight="normal" fill="#000" >Number high risk</text>
<text x="520.00" y="400.10" font-size="12.7" text-anchor="start" font-weight="normal" fill="#000" >Number high risk with event</text>
</svg>
</body></html>
